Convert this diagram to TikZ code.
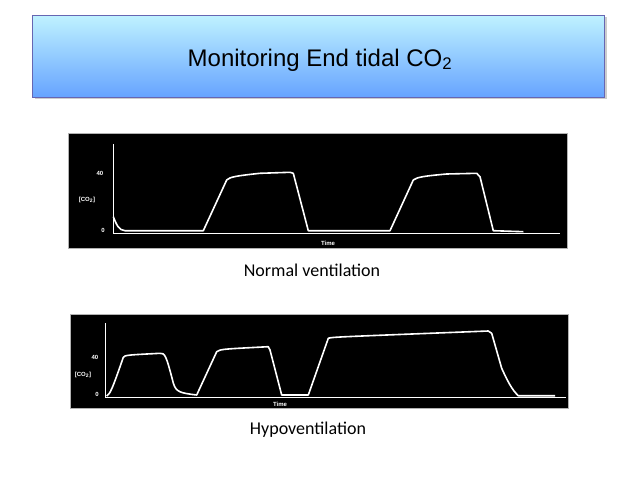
\documentclass[tikz,border=0pt]{standalone}
\usepackage{fontspec}
\setmainfont{Liberation Sans}
\newfontfamily\calfont{Carlito}
\usetikzlibrary{shadows}
\begin{document}
\begin{tikzpicture}[x=1pt,y=-1pt,
  wave/.style={white,line width=1.6pt,line join=round},
  axis/.style={white,line width=1pt},
  lab/.style={white,font=\fontsize{6}{7}\selectfont\bfseries,inner sep=0pt},
  panel/.style={fill=black,draw=gray!60,line width=0.4pt}]
\useasboundingbox (0,0) rectangle (638,479);
\fill[white] (0,0) rectangle (638,479);
\node[draw=blue!50!black!60,line width=0.8pt,top color=blue!20!cyan!25,bottom color=blue!60!cyan!60,
  drop shadow={opacity=0.4,shadow xshift=2pt,shadow yshift=-2pt},
  minimum width=572pt,minimum height=82pt] (title) at (318.5,56) {};
\node[font=\fontsize{24}{28}\selectfont] (tt) at (320,60) {Monitoring End tidal CO\textsubscript{2}};
% top panel
\draw[panel] (68,133) rectangle (567,248);
\coordinate (a1) at (113,144); \coordinate (a2) at (113,233); \coordinate (a3) at (560,233);
\draw[axis] (a1) -- (a2) -- (a3);
\node[lab] (t40) at (100,173) {40};
\node[lab] (tco) at (87,200) {[CO\textsubscript{2}]};
\node[lab] (t0) at (103,230) {0};
\node[lab] (tti) at (328,243) {Time};
\draw[wave] (113.3,216.7) .. controls (117,226) and (119,230) .. (125,230.7) -- (203.3,230.7)
  -- (226.7,180) .. controls (230,177) and (235,176) .. (260,173.3) -- (290,172.3) -- (293.3,173.3)
  -- (308.3,230.7) -- (390,230.7) -- (413.3,180) .. controls (417,177) and (425,176) .. (446.7,174) -- (476.7,173.3) -- (480,176.7)
  -- (493.3,230.7) -- (523.3,231.7);
% bottom panel
\draw[panel] (70,314) rectangle (568,408);
\coordinate (b1) at (105,323); \coordinate (b2) at (105,397); \coordinate (b3) at (566,397);
\draw[axis] (b1) -- (b2) -- (b3);
\node[lab] (b40) at (95,357) {40};
\node[lab] (bco) at (83,375) {[CO\textsubscript{2}]};
\node[lab] (b0) at (97,394) {0};
\node[lab] (bti) at (280,404) {Time};
\draw[wave] (106.7,396) .. controls (110,394) and (112,390) .. (123.3,357.3) .. controls (125,355) and (128,355) .. (160,353.3)
  .. controls (165,353) and (166,355) .. (173.3,383) .. controls (176,392) and (180,393) .. (196.7,395)
  -- (216.7,351.7) .. controls (220,349) and (225,349) .. (268.3,346.7) -- (270,350) -- (281.7,395) -- (308.3,395)
  -- (328.3,338.3) .. controls (332,337) and (336,337) .. (488.3,331) -- (491.7,333.3) -- (501.7,368.3)
  .. controls (507,380) and (512,390) .. (518.3,395.7) -- (555,395.7);
\node[font=\calfont\fontsize{18}{22}\selectfont] (c1) at (312,270) {Normal ventilation};
\node[font=\calfont\fontsize{18}{22}\selectfont] (c2) at (308,430) {Hypoventilation};
\end{tikzpicture}
\end{document}
